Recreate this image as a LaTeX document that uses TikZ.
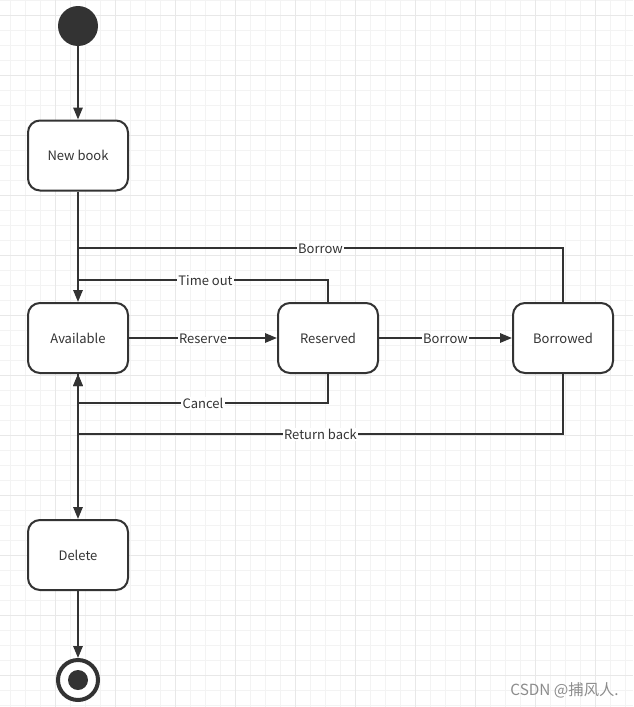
\documentclass[tikz,border=0pt]{standalone}
\usepackage{fontspec}
\setmainfont{Noto Sans CJK SC}
\usetikzlibrary{arrows.meta}
\definecolor{ink}{HTML}{333333}
\definecolor{gridminor}{HTML}{F3F3F3}
\definecolor{gridmajor}{HTML}{E8E8E8}
\definecolor{wm}{HTML}{8C8C8C}
\begin{document}
\begin{tikzpicture}[x=0.75pt,y=-0.75pt,
  state/.style={draw=ink,line width=1.5pt,fill=white,rounded corners=9pt,
    minimum width=75pt,minimum height=52.5pt,inner sep=0pt,text=ink,
    font=\fontsize{9.75pt}{11pt}\selectfont},
  lbl/.style={fill=white,inner sep=1pt,text=ink,yshift=-0.6pt,font=\fontsize{9.75pt}{11pt}\selectfont},
  conn/.style={draw=ink,line width=1.5pt},
  arr/.style={conn,-{Triangle[length=9pt,width=7pt]}}]
\useasboundingbox (0,0) rectangle (633,707);
\fill[white] (0,0) rectangle (633,707);
% grid
\foreach \gx in {10,25,...,630} {\draw[gridminor,line width=0.75pt] (\gx,0) -- (\gx,707);}
\foreach \gy in {0,15,...,705} {\draw[gridminor,line width=0.75pt] (0,\gy) -- (633,\gy);}
\foreach \gx in {55,115,...,630} {\draw[gridmajor,line width=0.75pt] (\gx,0) -- (\gx,707);}
\foreach \gy in {15,75,...,705} {\draw[gridmajor,line width=0.75pt] (0,\gy) -- (633,\gy);}
% nodes
\node[circle,fill=ink,minimum size=30pt,inner sep=0pt] (init) at (78,26) {};
\node[state] (newbook) at (78,155.5) {New book};
\node[state] (avail) at (78,338) {Available};
\node[state] (reserved) at (328,338) {Reserved};
\node[state] (borrowed) at (563,338) {Borrowed};
\node[state] (delete) at (78,555) {Delete};
\node[circle,draw=ink,line width=3pt,fill=white,minimum size=30pt,inner sep=0pt] (final) at (78,680) {};
\node[circle,fill=ink,minimum size=15pt,inner sep=0pt] (finalin) at (final.center) {};
\coordinate (jb) at (78,248);
\coordinate (jt) at (78,280);
\coordinate (jc) at (78,403);
\coordinate (jr) at (78,434);
% connectors
\draw[arr] (init) -- (newbook);
\draw[arr] (newbook) -- (avail);
\draw[conn] (borrowed.north) |- node[lbl,pos=0.75] {Borrow} (jb);
\draw[conn] (reserved.north) |- node[lbl,pos=0.745] {Time out} (jt);
\draw[arr] (avail) -- node[lbl] {Reserve} (reserved);
\draw[arr] (reserved) -- node[lbl] {Borrow} (borrowed);
\draw[arr] (reserved.south) |- node[lbl,pos=0.75] {Cancel} (jc) -- (avail.south);
\draw[arr] (borrowed.south) |- node[lbl,pos=0.75] {Return back} (jr) -- (avail.south);
\draw[arr] (avail) -- (delete);
\draw[arr] (delete) -- (final);
% watermark
\node[text=wm,font=\fontsize{11.5pt}{13pt}\selectfont,anchor=east,inner sep=0pt] (wmark) at (619,690) {CSDN @捕风人.};
\end{tikzpicture}
\end{document}
